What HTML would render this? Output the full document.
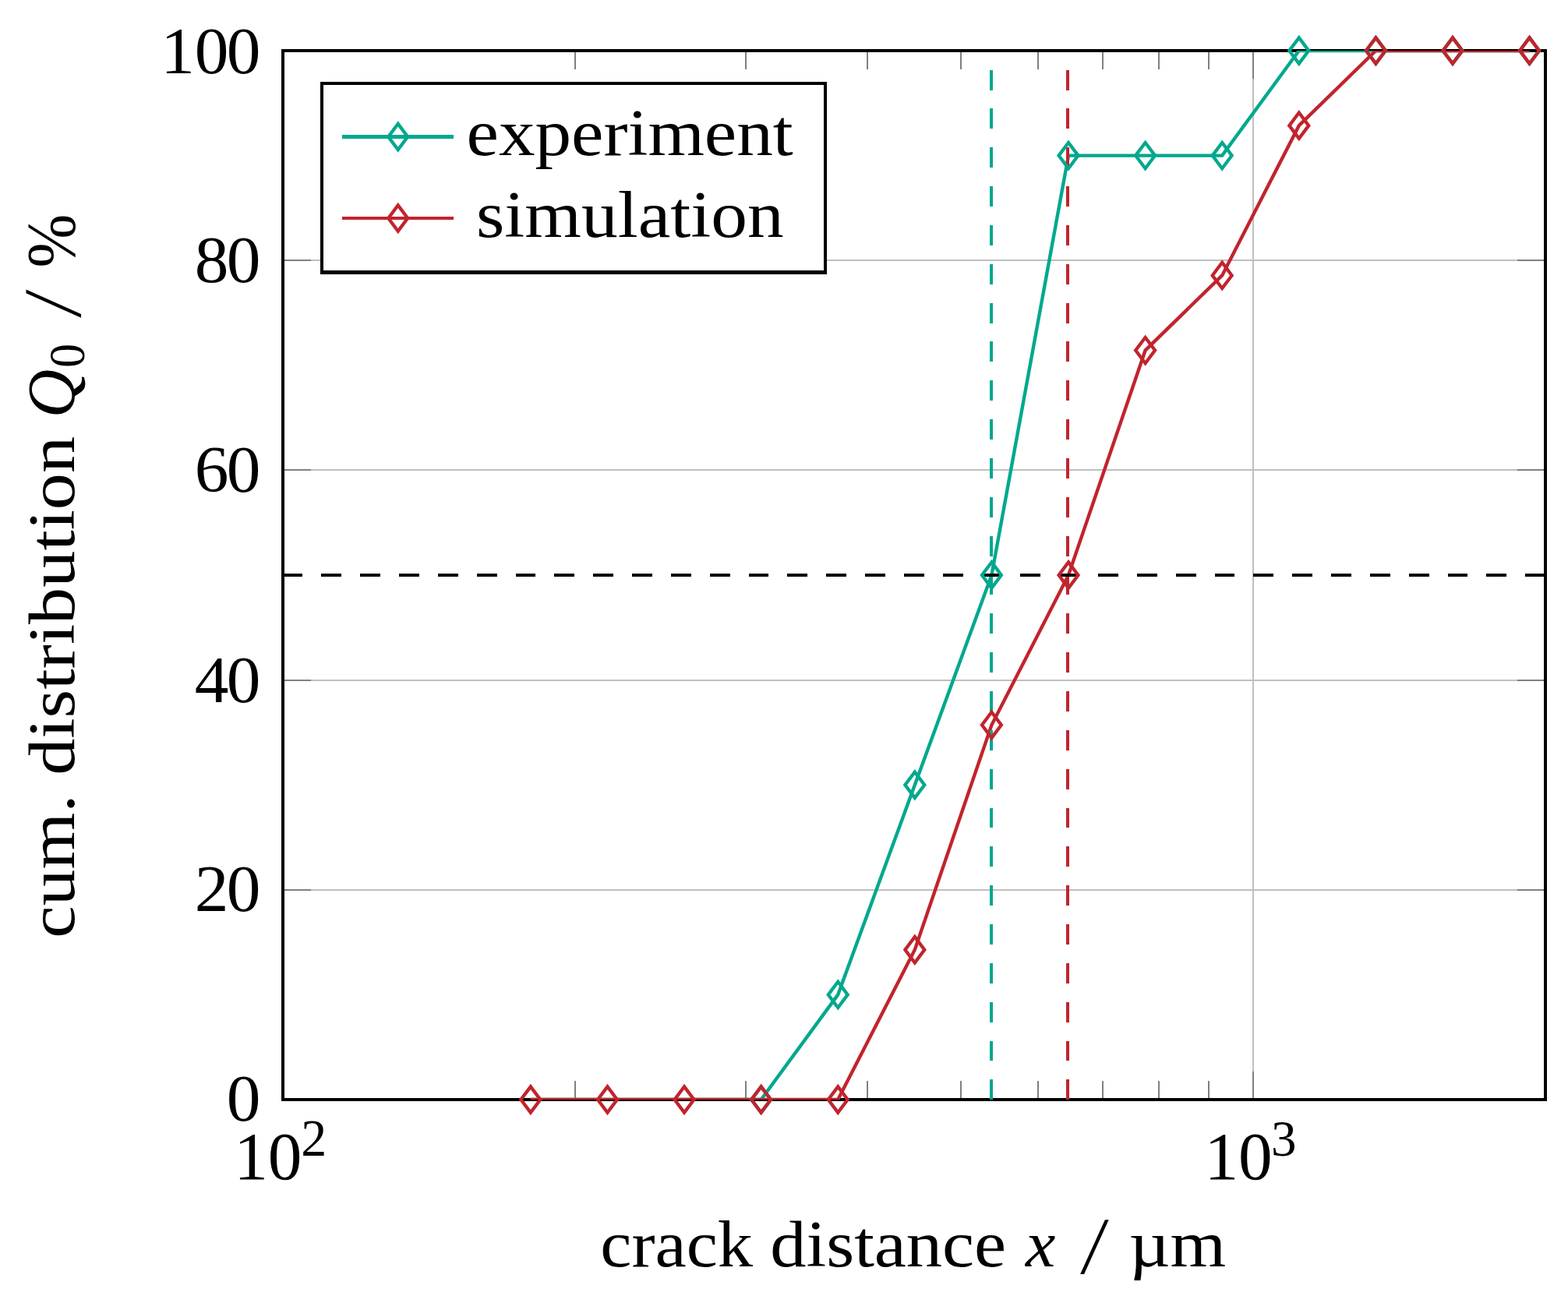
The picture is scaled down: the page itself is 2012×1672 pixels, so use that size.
<!DOCTYPE html>
<html lang="en">
<head>
<meta charset="utf-8">
<title>Cumulative distribution of crack distance</title>
<style>
html,body{margin:0;padding:0;background:#fff;}
body{width:2012px;height:1672px;overflow:hidden;}
svg{display:block;}
text{font-family:'Liberation Serif', 'DejaVu Serif', serif;fill:#000;}
</style>
</head>
<body>

<svg width="2012" height="1672" viewBox="0 0 2012 1672" role="img" aria-label="Cumulative distribution of crack distance: experiment vs. simulation">
<rect width="2012" height="1672" fill="#fff"/>
<defs><clipPath id="ax"><rect x="363" y="65" width="1620" height="1346"/></clipPath></defs>
<g shape-rendering="crispEdges">
<rect x="363" y="1141" width="1620" height="2" fill="#bfbfbf"/>
<rect x="363" y="872" width="1620" height="2" fill="#bfbfbf"/>
<rect x="363" y="602" width="1620" height="2" fill="#bfbfbf"/>
<rect x="363" y="333" width="1620" height="2" fill="#bfbfbf"/>
<rect x="1607" y="65" width="2" height="1346" fill="#bfbfbf"/>
<rect x="363" y="1141" width="36" height="2" fill="#808080"/>
<rect x="1947" y="1141" width="36" height="2" fill="#808080"/>
<rect x="363" y="872" width="36" height="2" fill="#808080"/>
<rect x="1947" y="872" width="36" height="2" fill="#808080"/>
<rect x="363" y="602" width="36" height="2" fill="#808080"/>
<rect x="1947" y="602" width="36" height="2" fill="#808080"/>
<rect x="363" y="333" width="36" height="2" fill="#808080"/>
<rect x="1947" y="333" width="36" height="2" fill="#808080"/>
<rect x="737" y="1387" width="2" height="24" fill="#808080"/>
<rect x="737" y="65" width="2" height="24" fill="#808080"/>
<rect x="956" y="1387" width="2" height="24" fill="#808080"/>
<rect x="956" y="65" width="2" height="24" fill="#808080"/>
<rect x="1112" y="1387" width="2" height="24" fill="#808080"/>
<rect x="1112" y="65" width="2" height="24" fill="#808080"/>
<rect x="1232" y="1387" width="2" height="24" fill="#808080"/>
<rect x="1232" y="65" width="2" height="24" fill="#808080"/>
<rect x="1331" y="1387" width="2" height="24" fill="#808080"/>
<rect x="1331" y="65" width="2" height="24" fill="#808080"/>
<rect x="1414" y="1387" width="2" height="24" fill="#808080"/>
<rect x="1414" y="65" width="2" height="24" fill="#808080"/>
<rect x="1486" y="1387" width="2" height="24" fill="#808080"/>
<rect x="1486" y="65" width="2" height="24" fill="#808080"/>
<rect x="1550" y="1387" width="2" height="24" fill="#808080"/>
<rect x="1550" y="65" width="2" height="24" fill="#808080"/>
<rect x="1607" y="1375" width="2" height="36" fill="#808080"/>
<rect x="1607" y="65" width="2" height="36" fill="#808080"/>
<rect x="363.0" y="65.0" width="1620.0" height="1346.0" fill="none" stroke="#000" stroke-width="4"/>
</g>
<g clip-path="url(#ax)" fill="none" stroke-width="4.4" stroke-linejoin="miter">
<polyline points="680.86,1411.00 779.45,1411.00 878.04,1411.00 976.64,1411.00 1075.23,1276.40 1173.83,1007.20 1272.42,738.00 1371.01,199.60 1469.61,199.60 1568.20,199.60 1666.80,65.00 1765.39,65.00 1863.98,65.00 1962.58,65.00" stroke="#00a88e"/>
<polyline points="680.86,1411.00 779.45,1411.00 878.04,1411.00 976.64,1411.00 1075.23,1411.00 1173.83,1218.71 1272.42,930.29 1371.01,738.00 1469.61,449.57 1568.20,353.43 1666.80,161.14 1765.39,65.00 1863.98,65.00 1962.58,65.00" stroke="#c1242d"/>
<path d="M1270 1385h4v26h-4zM1270 1336h4v25h-4zM1270 1286h4v26h-4zM1270 1236h4v26h-4zM1270 1186h4v26h-4zM1270 1136h4v26h-4zM1270 1086h4v26h-4zM1270 1037h4v25h-4zM1270 987h4v26h-4zM1270 937h4v26h-4zM1270 887h4v26h-4zM1270 837h4v26h-4zM1270 787h4v26h-4zM1270 738h4v25h-4zM1270 688h4v26h-4zM1270 638h4v26h-4zM1270 588h4v26h-4zM1270 538h4v26h-4zM1270 488h4v26h-4zM1270 438h4v26h-4zM1270 389h4v26h-4zM1270 339h4v26h-4zM1270 289h4v26h-4zM1270 239h4v26h-4zM1270 189h4v26h-4zM1270 139h4v26h-4zM1270 90h4v26h-4z" fill="#00a88e" stroke="none" shape-rendering="crispEdges"/>
<path d="M1368 1385h4v26h-4zM1368 1336h4v25h-4zM1368 1286h4v26h-4zM1368 1236h4v26h-4zM1368 1186h4v26h-4zM1368 1136h4v26h-4zM1368 1086h4v26h-4zM1368 1037h4v25h-4zM1368 987h4v26h-4zM1368 937h4v26h-4zM1368 887h4v26h-4zM1368 837h4v26h-4zM1368 787h4v26h-4zM1368 738h4v25h-4zM1368 688h4v26h-4zM1368 638h4v26h-4zM1368 588h4v26h-4zM1368 538h4v26h-4zM1368 488h4v26h-4zM1368 438h4v26h-4zM1368 389h4v26h-4zM1368 339h4v26h-4zM1368 289h4v26h-4zM1368 239h4v26h-4zM1368 189h4v26h-4zM1368 139h4v26h-4zM1368 90h4v26h-4z" fill="#c1242d" stroke="none" shape-rendering="crispEdges"/>
<path d="M363 736h25v4h-25zM412 736h26v4h-26zM462 736h26v4h-26zM512 736h26v4h-26zM562 736h26v4h-26zM612 736h26v4h-26zM662 736h25v4h-25zM711 736h26v4h-26zM761 736h26v4h-26zM811 736h26v4h-26zM861 736h26v4h-26zM911 736h26v4h-26zM961 736h25v4h-25zM1010 736h26v4h-26zM1060 736h26v4h-26zM1110 736h26v4h-26zM1160 736h26v4h-26zM1210 736h26v4h-26zM1260 736h25v4h-25zM1309 736h26v4h-26zM1359 736h26v4h-26zM1409 736h26v4h-26zM1459 736h26v4h-26zM1509 736h26v4h-26zM1559 736h25v4h-25zM1608 736h26v4h-26zM1658 736h26v4h-26zM1708 736h26v4h-26zM1758 736h26v4h-26zM1808 736h26v4h-26zM1858 736h25v4h-25zM1907 736h26v4h-26zM1957 736h26v4h-26z" fill="#000" stroke="none" shape-rendering="crispEdges"/>
</g>
<g fill="none" stroke-linejoin="miter">
<path d="M976.64 1394.40L989.09 1411.00L976.64 1427.60L964.19 1411.00Z" stroke="#00a88e" stroke-width="4.3"/>
<path d="M1075.23 1259.80L1087.68 1276.40L1075.23 1293.00L1062.78 1276.40Z" stroke="#00a88e" stroke-width="4.3"/>
<path d="M1173.83 990.60L1186.28 1007.20L1173.83 1023.80L1161.38 1007.20Z" stroke="#00a88e" stroke-width="4.3"/>
<path d="M1272.42 721.40L1284.87 738.00L1272.42 754.60L1259.97 738.00Z" stroke="#00a88e" stroke-width="4.3"/>
<path d="M1371.01 183.00L1383.46 199.60L1371.01 216.20L1358.56 199.60Z" stroke="#00a88e" stroke-width="4.3"/>
<path d="M1469.61 183.00L1482.06 199.60L1469.61 216.20L1457.16 199.60Z" stroke="#00a88e" stroke-width="4.3"/>
<path d="M1568.20 183.00L1580.65 199.60L1568.20 216.20L1555.75 199.60Z" stroke="#00a88e" stroke-width="4.3"/>
<path d="M1666.80 48.40L1679.25 65.00L1666.80 81.60L1654.35 65.00Z" stroke="#00a88e" stroke-width="4.3"/>
<path d="M1765.39 48.40L1777.84 65.00L1765.39 81.60L1752.94 65.00Z" stroke="#00a88e" stroke-width="4.3"/>
<path d="M1863.98 48.40L1876.43 65.00L1863.98 81.60L1851.53 65.00Z" stroke="#00a88e" stroke-width="4.3"/>
<path d="M1962.58 48.40L1975.03 65.00L1962.58 81.60L1950.13 65.00Z" stroke="#00a88e" stroke-width="4.3"/>
<path d="M680.86 1394.40L693.31 1411.00L680.86 1427.60L668.41 1411.00Z" stroke="#c1242d" stroke-width="4.3"/>
<path d="M779.45 1394.40L791.90 1411.00L779.45 1427.60L767.00 1411.00Z" stroke="#c1242d" stroke-width="4.3"/>
<path d="M878.04 1394.40L890.49 1411.00L878.04 1427.60L865.59 1411.00Z" stroke="#c1242d" stroke-width="4.3"/>
<path d="M976.64 1394.40L989.09 1411.00L976.64 1427.60L964.19 1411.00Z" stroke="#c1242d" stroke-width="4.3"/>
<path d="M1075.23 1394.40L1087.68 1411.00L1075.23 1427.60L1062.78 1411.00Z" stroke="#c1242d" stroke-width="4.3"/>
<path d="M1173.83 1202.11L1186.28 1218.71L1173.83 1235.31L1161.38 1218.71Z" stroke="#c1242d" stroke-width="4.3"/>
<path d="M1272.42 913.69L1284.87 930.29L1272.42 946.89L1259.97 930.29Z" stroke="#c1242d" stroke-width="4.3"/>
<path d="M1371.01 721.40L1383.46 738.00L1371.01 754.60L1358.56 738.00Z" stroke="#c1242d" stroke-width="4.3"/>
<path d="M1469.61 432.97L1482.06 449.57L1469.61 466.17L1457.16 449.57Z" stroke="#c1242d" stroke-width="4.3"/>
<path d="M1568.20 336.83L1580.65 353.43L1568.20 370.03L1555.75 353.43Z" stroke="#c1242d" stroke-width="4.3"/>
<path d="M1666.80 144.54L1679.25 161.14L1666.80 177.74L1654.35 161.14Z" stroke="#c1242d" stroke-width="4.3"/>
<path d="M1765.39 48.40L1777.84 65.00L1765.39 81.60L1752.94 65.00Z" stroke="#c1242d" stroke-width="4.3"/>
<path d="M1863.98 48.40L1876.43 65.00L1863.98 81.60L1851.53 65.00Z" stroke="#c1242d" stroke-width="4.3"/>
<path d="M1962.58 48.40L1975.03 65.00L1962.58 81.60L1950.13 65.00Z" stroke="#c1242d" stroke-width="4.3"/>
</g>
<g>
<rect x="411" y="105" width="650" height="247" fill="#fff" shape-rendering="crispEdges"/>
<path d="M411 105h650v247h-650zM415 109v238h642v-238z" fill="#000" fill-rule="evenodd" shape-rendering="crispEdges"/>
<rect x="439" y="173" width="143" height="5" fill="#00a88e" shape-rendering="crispEdges"/>
<rect x="439" y="278" width="143" height="4" fill="#c1242d" shape-rendering="crispEdges"/>
<g fill="none" stroke-linejoin="miter">
<path d="M510.70 158.90L523.15 175.50L510.70 192.10L498.25 175.50Z" stroke="#00a88e" stroke-width="4.3"/>
<path d="M510.70 263.40L523.15 280.00L510.70 296.60L498.25 280.00Z" stroke="#c1242d" stroke-width="4.3"/>
</g>
<text transform="matrix(1.1029 0 0 1 598.57 198.80)" font-size="84.50">experiment</text>
<text transform="matrix(1.1064 0 0 1 610.96 303.70)" font-size="84.50">simulation</text>
</g>
<g>
<text transform="matrix(1.0240 0 0 1 208.80 93.85)" font-size="85.33" letter-spacing="-2.627" dx="-2.44 2.44">100</text>
<text transform="matrix(1.0240 0 0 1 249.80 361.95)" font-size="85.33" letter-spacing="-2.627">80</text>
<text transform="matrix(1.0222 0 0 1 249.80 631.05)" font-size="85.48" letter-spacing="-2.632">60</text>
<text transform="matrix(1.0222 0 0 1 249.80 901.05)" font-size="85.48" letter-spacing="-2.632">40</text>
<text transform="matrix(1.0222 0 0 1 249.80 1168.95)" font-size="85.48" letter-spacing="-2.632">20</text>
<text transform="matrix(1.0240 0 0 1 290.80 1437.95)" font-size="85.33" letter-spacing="-2.627">0</text>
</g>
<g>
<text transform="matrix(1.0169 0 0 1 302.70 1513.24)" font-size="85.93" letter-spacing="-2.646" dx="-2.46 2.46">10</text>
<text transform="matrix(0.9855 0 0 1 386.33 1483.00)" font-size="66.97">2</text>
<text transform="matrix(1.0169 0 0 1 1547.90 1513.24)" font-size="85.93" letter-spacing="-2.646" dx="-2.46 2.46">10</text>
<text transform="matrix(0.9849 0 0 1 1630.94 1483.34)" font-size="66.12">3</text>
</g>
<g>
<text transform="matrix(1.0704 0 0 1 770.28 1625.00)" font-size="84.50">crack</text>
<text transform="matrix(1.0941 0 0 1 988.26 1625.00)" font-size="84.50">distance</text>
<text transform="matrix(1.0212 0 0 1 1316.06 1625.00)" font-size="84.50" font-style="italic">x</text>
<text transform="matrix(0.9682 0 -0.1212 1 1386.13 1633.96)" font-size="104.36">/</text>
<text transform="matrix(1.0904 0 0 1 1448.44 1625.00)" font-size="84.50">µm</text>
</g>
<g>
<text transform="matrix(0 -1.1054 1 0 94.60 1203.64)" font-size="84.50">cum.</text>
<text transform="matrix(0 -1.1165 1 0 94.60 994.80)" font-size="84.50">distribution</text>
<text transform="matrix(0 -0.9881 1 0 94.60 536.36)" font-size="87.50" font-style="italic">Q</text>
<text transform="matrix(0 -0.9570 1 0 108.35 472.10)" font-size="65.19">0</text>
<text transform="matrix(0 -0.9585 1 0.1172 102.95 407.68)" font-size="105.41">/</text>
<text transform="matrix(0 -0.9263 1 0 94.76 343.60)" font-size="89.33">%</text>
</g>
</svg>
</body>
</html>
